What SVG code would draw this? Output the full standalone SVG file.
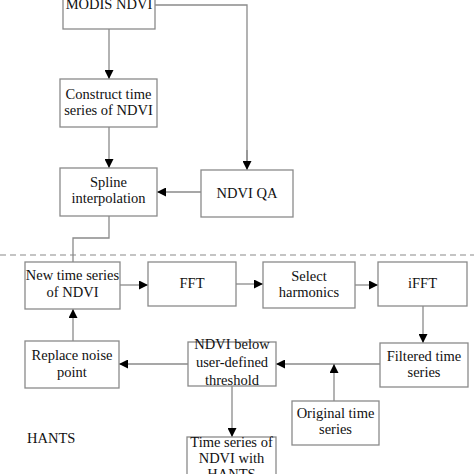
<svg xmlns="http://www.w3.org/2000/svg" width="474" height="474" viewBox="0 0 474 474">
<defs>
<marker id="ah" viewBox="0 0 10 10" refX="10" refY="5" markerWidth="9" markerHeight="9" markerUnits="userSpaceOnUse" orient="auto">
<path d="M0,0 L10,5 L0,10 Z" fill="#000"/>
</marker>
<style>
.box{fill:#fff;stroke:#8a8a8a;stroke-width:1.3}
.ln{fill:none;stroke:#8a8a8a;stroke-width:1.3}
.ar{fill:none;stroke:#8a8a8a;stroke-width:1.3;marker-end:url(#ah)}
text{font-family:"Liberation Serif","Times New Roman",serif;font-size:14.5px;fill:#111;text-anchor:middle}
</style>
</defs>
<rect width="474" height="474" fill="#fff"/>
<g id="connectors">
<path class="ln" d="M155,5 H247 V162"/>
<path class="ar" d="M247,150 V170"/>
<path class="ar" d="M109,29 V79"/>
<path class="ar" d="M109,127 V168"/>
<path class="ar" d="M201,192 H157"/>
<path class="ln" d="M109,216 V238 H73 V262"/>
<line x1="0" y1="255" x2="474" y2="255" stroke="#8a8a8a" stroke-width="1.2" stroke-dasharray="6,4"/>
<path class="ar" d="M120,285 H148"/>
<path class="ar" d="M236,284 H263"/>
<path class="ar" d="M355,285 H378"/>
<path class="ar" d="M423,306 V343"/>
<path class="ar" d="M73,341 V309"/>
<path class="ar" d="M380,364 H276"/>
<path class="ar" d="M188,364 H119"/>
<path class="ar" d="M334,401 V364"/>
<path class="ar" d="M232,386 V437"/>
</g>
<g id="modis"><rect class="box" x="63" y="-20" width="92" height="49"/><text x="109" y="9">MODIS NDVI</text></g>
<g id="construct"><rect class="box" x="60" y="79" width="97" height="48"/><text x="108.5" y="99">Construct time</text><text x="108.5" y="115">series of NDVI</text></g>
<g id="spline"><rect class="box" x="60" y="168" width="97" height="48"/><text x="108.5" y="187">Spline</text><text x="108.5" y="203">interpolation</text></g>
<g id="ndviqa"><rect class="box" x="201" y="170" width="92" height="47"/><text x="247" y="198">NDVI QA</text></g>
<g id="newts"><rect class="box" x="25" y="262" width="95" height="47"/><text x="72.5" y="280">New time series</text><text x="72.5" y="297">of NDVI</text></g>
<g id="fft"><rect class="box" x="148" y="262" width="88" height="44"/><text x="192" y="288">FFT</text></g>
<g id="select"><rect class="box" x="263" y="262" width="92" height="46"/><text x="309" y="281">Select</text><text x="309" y="297">harmonics</text></g>
<g id="ifft"><rect class="box" x="378" y="262" width="89" height="44"/><text x="422.5" y="288">iFFT</text></g>
<g id="replace"><rect class="box" x="25" y="341" width="94" height="47"/><text x="72" y="360">Replace noise</text><text x="72" y="377">point</text></g>
<g id="below"><rect class="box" x="188" y="342" width="88" height="44"/><text x="232" y="349">NDVI below</text><text x="232" y="367">user-defined</text><text x="232" y="385">threshold</text></g>
<g id="filtered"><rect class="box" x="380" y="343" width="88" height="44"/><text x="424" y="361">Filtered time</text><text x="424" y="377">series</text></g>
<g id="original"><rect class="box" x="292" y="401" width="87" height="44"/><text x="335.5" y="418">Original time</text><text x="335.5" y="434">series</text></g>
<g id="hantsout"><rect class="box" x="187" y="437" width="89" height="60"/><text x="231.5" y="447">Time series of</text><text x="231.5" y="463">NDVI with</text><text x="231.5" y="479">HANTS</text></g>
<g id="hants-label"><text x="27" y="443" style="text-anchor:start">HANTS</text></g>
</svg>
